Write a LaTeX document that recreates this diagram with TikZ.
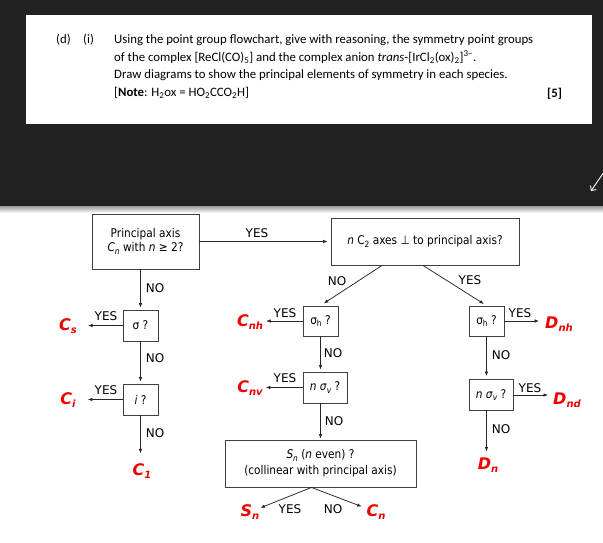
\documentclass[tikz,border=0pt]{standalone}
\usepackage{fontspec}
\setmainfont{Carlito}
\newfontfamily\flowfont{DejaVu Sans}
\newfontfamily\boxfont[FakeStretch=0.88]{DejaVu Sans}
\usetikzlibrary{arrows.meta, calc, positioning}
\definecolor{screen}{RGB}{34,34,34}
\definecolor{grp}{RGB}{240,0,0}
\newcommand{\lowsub}[1]{\raisebox{-3pt}{\fontsize{10}{10}\selectfont #1}}
\newcommand{\boxsub}[1]{\raisebox{-2.5pt}{\fontsize{8.5}{8.5}\selectfont #1}}

\begin{document}
\begin{tikzpicture}[x=1pt,y=-1pt,
    qbox/.style={draw=black!75,line width=0.9pt,inner sep=0pt,align=center,
        font=\boxfont\fontsize{12}{14}\selectfont},
    lab/.style={inner sep=0pt,font=\flowfont\fontsize{12}{14}\selectfont},
    res/.style={inner sep=0pt,text=grp,font=\flowfont\bfseries\itshape\fontsize{16}{16}\selectfont},
    arr/.style={draw=black!85,line width=0.75pt,-{Latex[length=4.5pt,width=3.6pt]}}]
\useasboundingbox (0,0) rectangle (603,543);
\fill[white] (0,0) rectangle (603,543);
%
\begin{scope}
    \fill[screen] (0,0) rectangle (603,206);
    \shade[top color=black!40,bottom color=white] (0,206) rectangle (603,213);
    \fill[white] (26,15) rectangle (592,124);
    \node[anchor=west,inner sep=0pt,font=\fontsize{12.8}{15}\selectfont] (part) at (56,40) {(d)};
    \node[anchor=west,inner sep=0pt,font=\fontsize{12.8}{15}\selectfont] (subpart) at (83,40) {(i)};
    \node[anchor=north west,inner sep=0pt,align=left,font=\fontsize{12.8}{17.7}\selectfont] (question) at (114,34.5)
        {Using the point group flowchart, give with reasoning, the symmetry point groups\\
         of the complex [ReCl(CO)\textsubscript{5}] and the complex anion \textit{trans}-[IrCl\textsubscript{2}(ox)\textsubscript{2}]\textsuperscript{3--}.\\
         Draw diagrams to show the principal elements of symmetry in each species.\\
         {[}\textbf{Note}: H\textsubscript{2}ox = HO\textsubscript{2}CCO\textsubscript{2}H]};
    \node[anchor=west,inner sep=0pt,font=\bfseries\fontsize{12.8}{15}\selectfont] (marks) at (547,94) {[5]};
    \draw[white,line width=0.9pt,-{Straight Barb[length=3.5pt,width=7pt]}] (604,172) -- (591,191);
\end{scope}

%
\node[qbox,minimum width=107pt,minimum height=55pt] (pa) at (145.5,241.5)
    {Principal axis\\ \textit{C}\boxsub{\itshape n} with \textit{n} ≥ 2?};
\node[qbox,minimum width=188pt,minimum height=47pt] (c2) at (425,241.5)
    {\textit{n} C\boxsub{2} axes ⊥ to principal axis?};
\node[qbox,minimum width=35pt,minimum height=31pt] (sig) at (140.5,325.5) {σ ?};
\node[qbox,minimum width=35pt,minimum height=31pt] (inv) at (140.5,399.5) {\textit{i} ?};
\node[qbox,minimum width=35pt,minimum height=30pt] (shl) at (320.5,321) {σ\boxsub{h} ?};
\node[qbox,minimum width=44pt,minimum height=31pt] (svl) at (325,387.5) {\textit{n σ}\boxsub{\itshape v} ?};
\node[qbox,minimum width=191pt,minimum height=47pt] (sn) at (320.5,463.5)
    {\textit{S}\boxsub{\itshape n} (\textit{n} even) ?\\[2pt] (collinear with principal axis)};
\node[qbox,minimum width=35pt,minimum height=30pt] (shr) at (486.5,321) {σ\boxsub{h} ?};
\node[qbox,minimum width=44pt,minimum height=31pt] (svr) at (491,395) {\textit{n σ}\boxsub{\itshape v} ?};

%
\node[res] (cs) at (68,326) {C\lowsub{s}};
\node[res] (ci) at (68,400) {C\lowsub{i}};
\node[res] (c1) at (142,471) {C\lowsub{1}};
\node[res] (cnh) at (250,322) {C\lowsub{nh}};
\node[res] (cnv) at (250,388) {C\lowsub{nv}};
\node[res] (dnh) at (559,324) {D\lowsub{nh}};
\node[res] (dnd) at (567,400) {D\lowsub{nd}};
\node[res] (dn) at (488,465) {D\lowsub{n}};
\node[res] (snr) at (250,512) {S\lowsub{n}};
\node[res] (cn) at (376,512) {C\lowsub{n}};

%
\draw[arr,shorten >=3pt] (pa.east) -- (c2.west);
\draw[arr,shorten >=2pt] (sig |- pa.south) -- (sig.north);
\draw[arr,shorten >=11pt] (sig.west) -- (sig.west -| cs.east);
\draw[arr,shorten >=2pt] (sig.south) -- (inv.north);
\draw[arr,shorten >=12pt] (inv.west) -- (inv.west -| ci.east);
\draw[arr,shorten >=10pt] (inv.south) -- (inv.south |- c1.north);
%
\draw[arr,shorten >=4pt] ([xshift=-43pt]c2.south) -- (shl.north);
\draw[arr,shorten >=3pt] ([xshift=-2pt]c2.south) -- (shr.north);
\draw[arr,shorten >=3pt] (shl.west) -- (shl.west -| cnh.east);
\draw[arr,shorten >=2pt] (shl.south) -- (shl.south |- svl.north);
\draw[arr,shorten >=3pt] (svl.west) -- (svl.west -| cnv.east);
\draw[arr,shorten >=1pt] (shl |- svl.south) -- (shl |- sn.north);
\draw[arr,shorten >=1pt] ([xshift=-9pt]sn.south) -- (snr);
\draw[arr,shorten >=5pt] ([xshift=-9pt]sn.south) -- (cn);
%
\draw[arr,shorten >=6pt] (shr.east) -- (shr.east -| dnh.west);
\draw[arr,shorten >=3pt] (shr.south) -- (shr.south |- svr.north);
\draw[arr,shorten >=5pt] (svr.east) -- (svr.east -| dnd.west);
\draw[arr,shorten >=6pt] (shr |- svr.south) -- (shr |- dn.north);

%
\node[lab] (yespa) at (257,233) {YES};
\node[lab] (nopa) at (155,288) {NO};
\node[lab] (yessig) at (106,316) {YES};
\node[lab] (nosig) at (155,358) {NO};
\node[lab] (yesinv) at (106,390) {YES};
\node[lab] (noinv) at (155,433) {NO};
\node[lab] (noc2) at (337,281) {NO};
\node[lab] (yesc2) at (470,280) {YES};
\node[lab] (yesshl) at (285,313) {YES};
\node[lab] (noshl) at (333,353) {NO};
\node[lab] (yessvl) at (285,378) {YES};
\node[lab] (nosvl) at (334,421) {NO};
\node[lab] (yesshr) at (520,313) {YES};
\node[lab] (noshr) at (501,355) {NO};
\node[lab] (yessvr) at (530,388) {YES};
\node[lab] (nosvr) at (501,429) {NO};
\node[lab] (yessn) at (290,509) {YES};
\node[lab] (nosn) at (333,509) {NO};
\end{tikzpicture}
\end{document}
